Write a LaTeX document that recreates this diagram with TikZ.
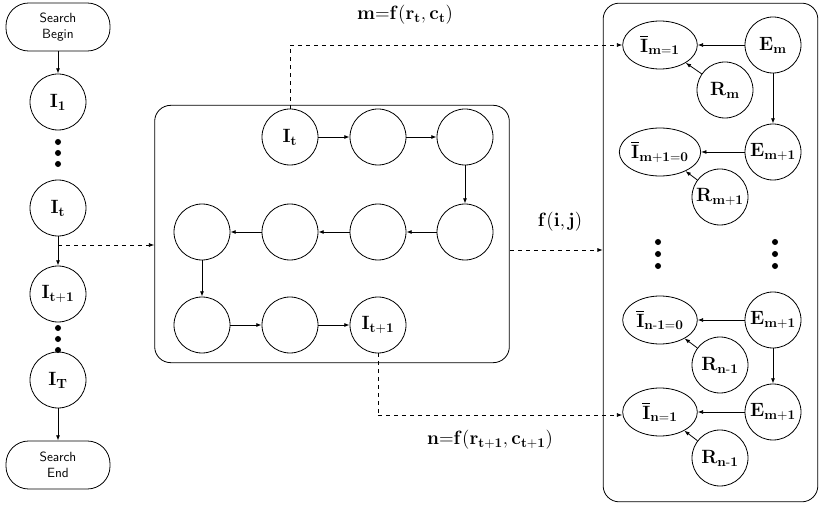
\documentclass[tikz,border=0pt]{standalone}
\usepackage{amsmath}
\usetikzlibrary{arrows.meta,shapes.geometric}
\begin{document}
\begin{tikzpicture}[x=0.75pt,y=-0.75pt,semithick,
  st/.style={circle,draw,minimum size=42pt,inner sep=0pt,font=\Large},
  ell/.style={ellipse,draw,minimum width=56pt,minimum height=36pt,inner sep=0pt,font=\Large},
  term/.style={rectangle,rounded corners=17pt,draw,minimum width=78pt,minimum height=36pt,font=\sffamily,align=center},
  ar/.style={-{Latex[length=4pt,width=3pt]}},
  da/.style={dashed,-{Latex[length=4pt,width=3pt]}},
  dot/.style={circle,fill,inner sep=1.6pt}]
\useasboundingbox (0,0) rectangle (822,506);
% left column
\node[term] (sb) at (58,27) {Search\\Begin};
\node[st] (i1) at (58,102) {$\mathbf{I_1}$};
\node[st] (it) at (58,208) {$\mathbf{I_t}$};
\node[st] (it1) at (58,294) {$\mathbf{I_{t+1}}$};
\node[st] (iT) at (58,380) {$\mathbf{I_T}$};
\node[term] (se) at (58,465) {Search\\End};
\foreach \y in {142,153,164,328,339,350} \node[dot] at (58,\y) {};
\draw[ar] (sb) -- (i1);
\draw[ar] (it) -- (it1);
\draw[ar] (iT) -- (se);
% middle box
\node[draw,rounded corners=12pt,minimum width=266pt,minimum height=193pt] (mid) at (332,234) {};
\node[st] (a1) at (290,137) {$\mathbf{I_t}$};
\node[st] (a2) at (378,137) {};
\node[st] (a3) at (465,137) {};
\node[st] (b1) at (465,232) {};
\node[st] (b2) at (378,232) {};
\node[st] (b3) at (290,232) {};
\node[st] (b4) at (202,232) {};
\node[st] (c1) at (202,325) {};
\node[st] (c2) at (290,325) {};
\node[st] (c3) at (378,325) {$\mathbf{I_{t+1}}$};
\draw[ar] (a1) -- (a2); \draw[ar] (a2) -- (a3); \draw[ar] (a3) -- (b1);
\draw[ar] (b1) -- (b2); \draw[ar] (b2) -- (b3); \draw[ar] (b3) -- (b4);
\draw[ar] (b4) -- (c1); \draw[ar] (c1) -- (c2); \draw[ar] (c2) -- (c3);
\coordinate (br) at (58,245);
\draw[da] (br) -- (br -| mid.west);
% right box
\node[draw,rounded corners=12pt,minimum width=161pt,minimum height=374pt] (rb) at (710.5,252.5) {};
\node[ell] (p1) at (660,45) {$\overline{\mathbf{I}}\mathbf{_{m=1}}$};
\node[ell] (p2) at (660,152) {$\overline{\mathbf{I}}\mathbf{_{m+1=0}}$};
\node[ell] (p3) at (660,320) {$\overline{\mathbf{I}}\mathbf{_{n\text{-}1=0}}$};
\node[ell] (p4) at (660,412) {$\overline{\mathbf{I}}\mathbf{_{n=1}}$};
\node[st] (e1) at (773,45) {$\mathbf{E_m}$};
\node[st] (e2) at (773,152) {$\mathbf{E_{m+1}}$};
\node[st] (e3) at (773,320) {$\mathbf{E_{m+1}}$};
\node[st] (e4) at (773,412) {$\mathbf{E_{m+1}}$};
\node[st] (r1) at (725,90) {$\mathbf{R_m}$};
\node[st] (r2) at (720,197) {$\mathbf{R_{m+1}}$};
\node[st] (r3) at (720,365) {$\mathbf{R_{n\text{-}1}}$};
\node[st] (r4) at (720,458) {$\mathbf{R_{n\text{-}1}}$};
\foreach \x in {658,775} \foreach \y in {242,254,266} \node[dot] at (\x,\y) {};
\foreach \i in {1,2,3,4} {\draw[ar] (e\i) -- (p\i); \draw[ar] (r\i) -- (p\i);}
\draw[ar] (e1) -- (e2); \draw[ar] (e3) -- (e4);
% dashed links
\coordinate (k1) at (290,45);
\draw[dashed] (a1) -- (k1);
\draw[da] (k1) -- (p1);
\coordinate (k2) at (378,415);
\draw[dashed] (c3) -- (k2);
\draw[da] (k2) -- (k2 -| p4.west);
\coordinate (k3) at (510,250);
\draw[da] (k3) -- (k3 -| rb.west);
\node[font=\Large] (l1) at (405,15) {$\mathbf{m{=}f(r_t,c_t)}$};
\node[font=\Large] (l2) at (560,222) {$\mathbf{f(i,j)}$};
\node[font=\Large] (l3) at (490,440) {$\mathbf{n{=}f(r_{t+1},c_{t+1})}$};
\end{tikzpicture}
\end{document}
